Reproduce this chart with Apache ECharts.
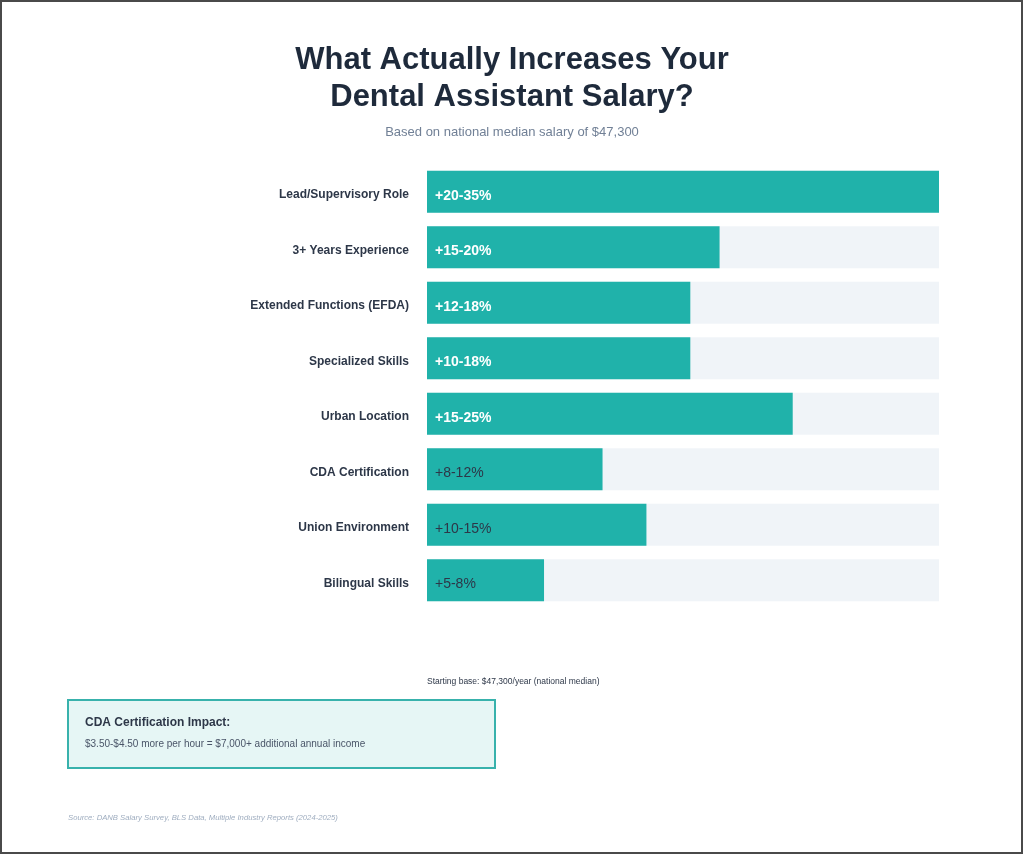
<!DOCTYPE html>
<html lang="en">
<head>
    <meta charset="UTF-8">
    <title>Dental Assistant Salary</title>
    <style>
        html, body { margin: 0; padding: 0; background: #fff; }
        #main { width: 1024px; height: 854px; }
    </style>
</head>
<body>
<div id="main"></div>
<script src="https://cdn.jsdelivr.net/npm/echarts@6/dist/echarts.min.js"></script>
<script>
    // factors and salary boost ranges (%)
    var factors = ['Lead/Supervisory Role', '3+ Years Experience', 'Extended Functions (EFDA)', 'Specialized Skills',
        'Urban Location', 'CDA Certification', 'Union Environment', 'Bilingual Skills'];
    var lowPct = [20, 15, 12, 10, 15, 8, 10, 5];
    var highPct = [35, 20, 18, 18, 25, 12, 15, 8];

    var font = '"Liberation Sans", Arial, Helvetica, sans-serif';
    var teal = '#20b2aa';

    var myChart = echarts.init(document.getElementById('main'));

    // short bars get dark text
    var barData = highPct.map(function (v) {
        var dark = v <= 15;
        return {
            value: v,
            label: {
                color: dark ? '#2d3748' : '#ffffff',
                fontWeight: dark ? 'normal' : 'bold'
            }
        };
    });

    var option = {
        backgroundColor: '#ffffff',
        textStyle: { fontFamily: font },
        title: [{
            text: 'What Actually Increases Your\nDental Assistant Salary?',
            left: 'center',
            top: 37,
            textStyle: { fontSize: 31, fontWeight: 'bold', color: '#1e2a3b', lineHeight: 37, fontFamily: font }
        }, {
            text: 'Based on national median salary of $47,300',
            left: 'center',
            top: 121,
            textStyle: { fontSize: 13, fontWeight: 'normal', color: '#718096', fontFamily: font }
        }],
        grid: { left: 427, right: 85, top: 164, height: 444 },
        xAxis: { type: 'value', min: 0, max: 35, show: false },
        yAxis: {
            type: 'category',
            data: factors,
            inverse: true,
            axisLine: { show: false },
            axisTick: { show: false },
            axisLabel: {
                margin: 18,
                formatter: function (v) { return '{a|' + v + '}'; },
                rich: {
                    a: { fontSize: 12, fontWeight: 'bold', color: '#2d3748', fontFamily: font, padding: [6, 0, 0, 0] }
                }
            }
        },
        series: [{
            type: 'bar',
            data: barData,
            barWidth: 42,
            itemStyle: { color: teal },
            showBackground: true,
            backgroundStyle: { color: '#f0f4f8' },
            label: {
                show: true,
                position: 'insideLeft',
                distance: 8,
                offset: [0, 4],
                fontSize: 14,
                fontFamily: font,
                formatter: function (p) {
                    return '+' + lowPct[p.dataIndex] + '-' + highPct[p.dataIndex] + '%';
                }
            }
        }],
        graphic: [
            {
                type: 'rect', silent: true,
                shape: { x: 1, y: 1, width: 1021, height: 852 },
                style: { fill: 'none', stroke: '#4a4a4a', lineWidth: 2 }
            },
            {
                type: 'text', left: 427, top: 677,
                style: { text: 'Starting base: $47,300/year (national median)', fontSize: 8.5, fill: '#2d3748', fontFamily: font }
            },
            {
                type: 'rect',
                shape: { x: 68, y: 700, width: 427, height: 68 },
                style: { fill: '#e6f6f5', stroke: '#38b2ac', lineWidth: 2 }
            },
            {
                type: 'text', left: 85, top: 717,
                style: { text: 'CDA Certification Impact:', fontSize: 12, fontWeight: 'bold', fill: '#2d3748', fontFamily: font }
            },
            {
                type: 'text', left: 85, top: 739,
                style: { text: '$3.50-$4.50 more per hour = $7,000+ additional annual income', fontSize: 10, fill: '#4a5568', fontFamily: font }
            },
            {
                type: 'text', left: 68, top: 814,
                style: { text: 'Source: DANB Salary Survey, BLS Data, Multiple Industry Reports (2024-2025)', fontSize: 7.7, fontStyle: 'italic', fill: '#a0aec0', fontFamily: font }
            }
        ]
    };

    myChart.setOption(option);
</script>
</body>
</html>
